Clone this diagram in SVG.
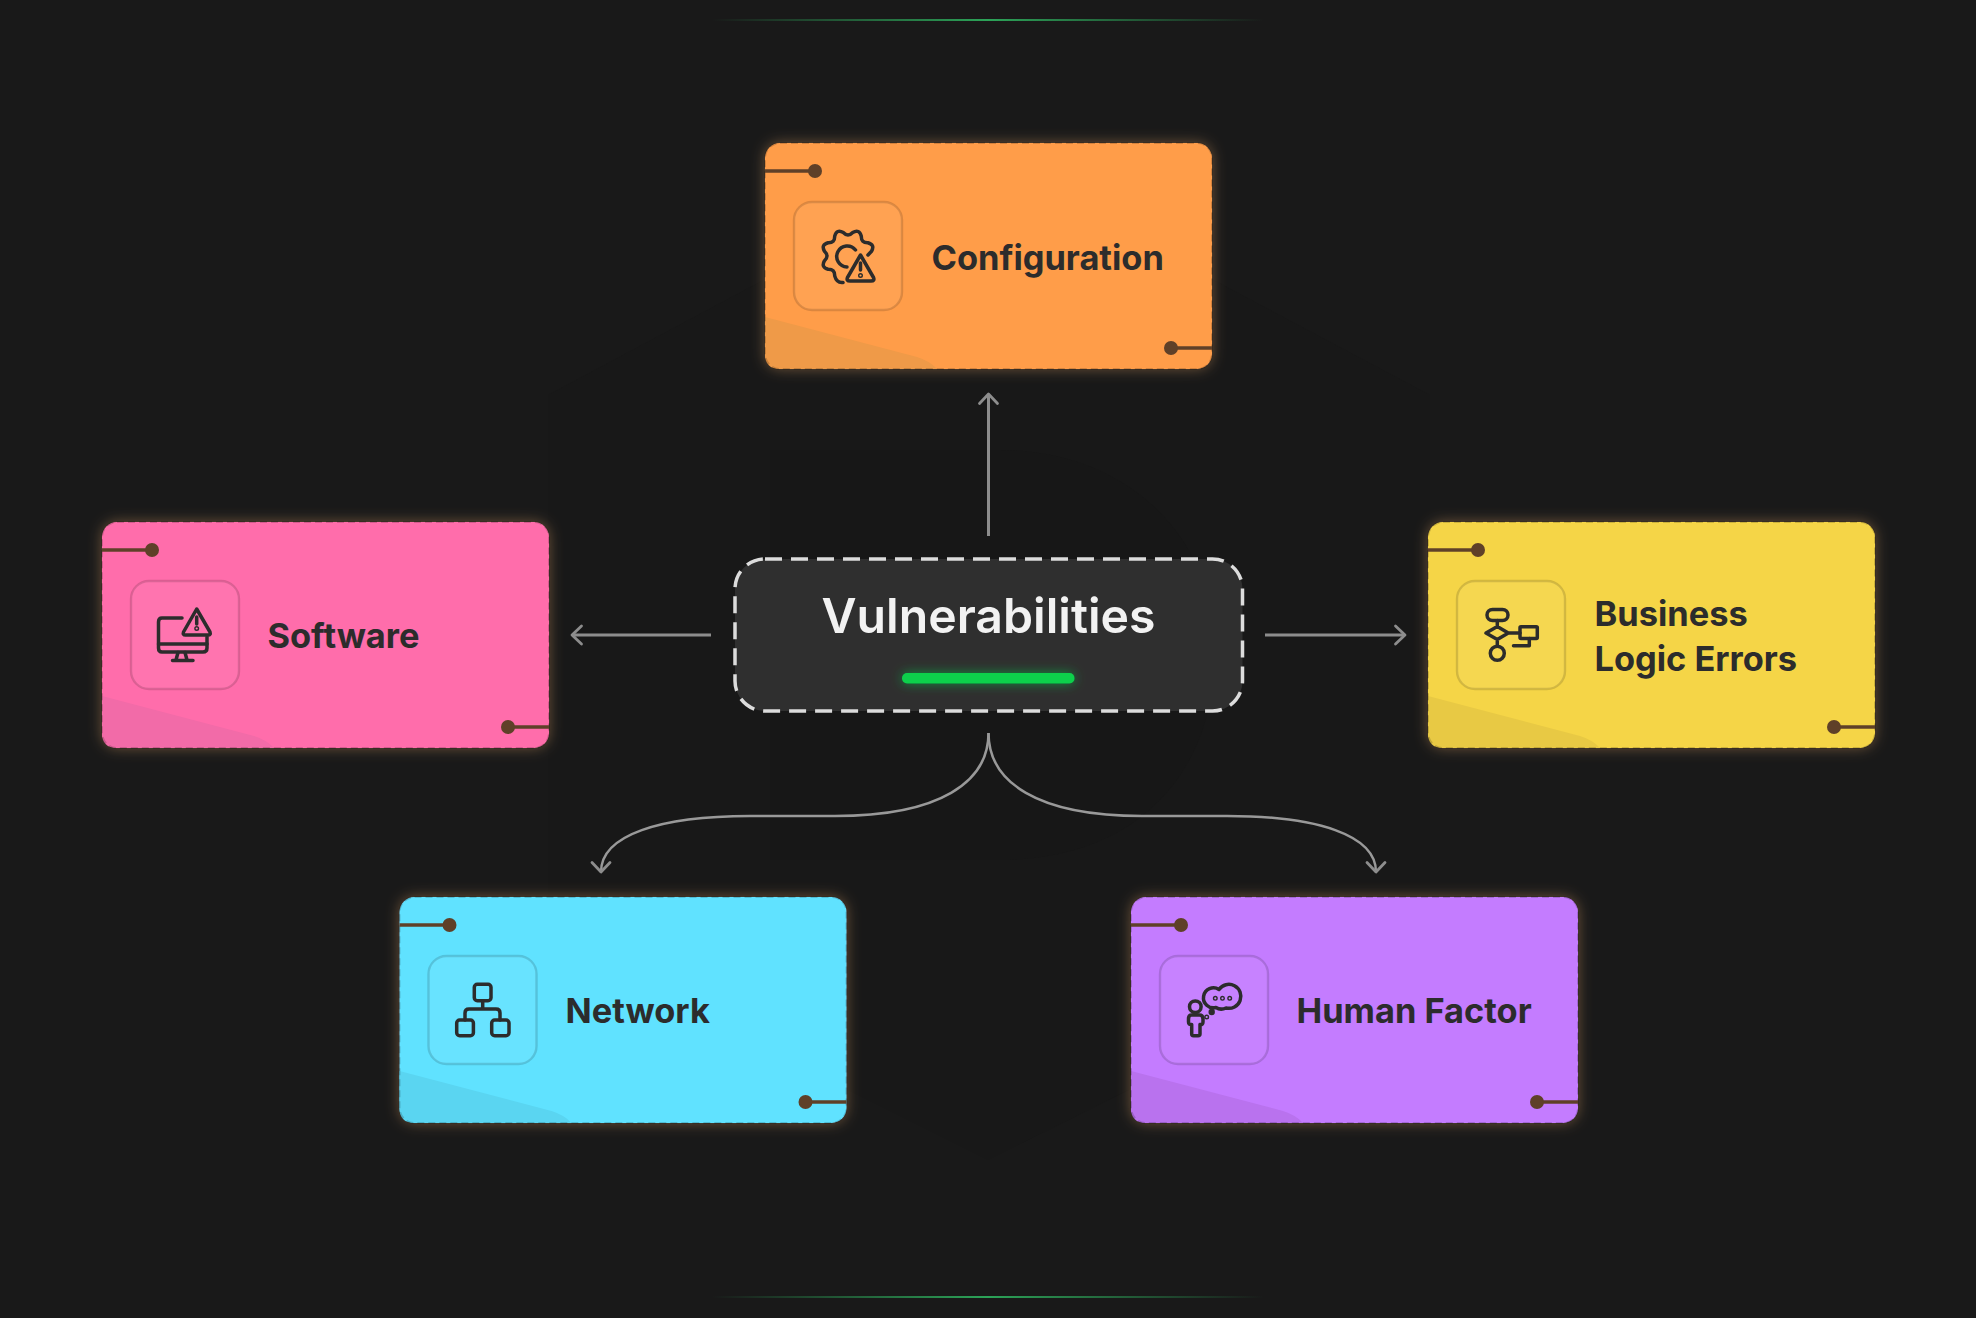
<svg xmlns="http://www.w3.org/2000/svg" width="1976" height="1318" viewBox="0 0 1976 1318">
<style>
text{font-family:"Inter","Liberation Sans",sans-serif}
.lbl{font-size:34.4px;font-weight:700;fill:#2c2c2c}
.title{font-size:48.2px;font-weight:600;fill:#f2f2f2;text-anchor:middle}
.edge{fill:none;stroke:rgba(0,0,0,.17);stroke-width:2;stroke-dasharray:7 4}
.tie{stroke:#5f4028;stroke-width:3.5;fill:none}
.dot{fill:#5f4028}
.ibox{fill:rgba(255,255,255,.05);stroke:rgba(0,0,0,.14);stroke-width:2.4}
.ic{fill:none;stroke:#2c2c2c;stroke-width:3.5;stroke-linecap:round;stroke-linejoin:round}
.ict{fill:none;stroke:#2c2c2c;stroke-width:1.4}
.icf{fill:#2c2c2c}
.arrow{fill:none;stroke:#8d8d8d;stroke-width:3;marker-end:url(#chev)}
.curve{fill:none;stroke:#999;stroke-width:2.5;marker-end:url(#chev)}
</style>
<defs>
<marker id="chev" markerUnits="userSpaceOnUse" markerWidth="24" markerHeight="24" refX="12" refY="12" orient="auto" overflow="visible">
<path d="M2.500 3L12 12L2.500 21" fill="none" stroke="#8d8d8d" stroke-width="2.8" stroke-linecap="round" stroke-linejoin="round"/>
</marker>
<filter id="glow" x="-10%" y="-15%" width="120%" height="130%"><feDropShadow dx="0" dy="0" stdDeviation="7" flood-color="#ffb870" flood-opacity=".38"/></filter>
<filter id="gglow" x="-15%" y="-300%" width="130%" height="700%"><feDropShadow dx="0" dy="0" stdDeviation="6" flood-color="#0bd04b" flood-opacity=".6"/></filter>
<linearGradient id="line" x1="0" x2="1" y1="0" y2="0"><stop offset="0" stop-color="#2ca358" stop-opacity="0"/><stop offset=".5" stop-color="#2ca358"/><stop offset="1" stop-color="#2ca358" stop-opacity="0"/></linearGradient>
<g id="card-base"><rect width="447" height="226" rx="15" filter="url(#glow)" fill="currentColor"/></g>
<path id="wedge" d="M0 174L152 214Q165 218 172 226L15 226Q0 226 0 211Z"/>
<g id="card-top">
<rect class="edge" width="447" height="226" rx="15"/>
<path class="tie" d="M0 28H50"/><circle class="dot" cx="50" cy="28" r="7"/>
<path class="tie" d="M406 205H447"/><circle class="dot" cx="406" cy="205" r="7"/>
<rect class="ibox" x="29" y="59" width="108" height="108" rx="18"/>
</g>
</defs>
<rect width="1976" height="1318" fill="#191919"/>
<g id="backdrop"><path d="M988 160L1430 395V940L988 1160L548 940V395Z" fill="#181818"/><path d="M770 450H1000C1130 450 1215 540 1215 650C1215 780 1130 860 1000 860H770Z" fill="#171717"/></g>
<rect x="712" y="19" width="552" height="2" fill="url(#line)"/>
<rect x="712" y="1296" width="552" height="2" fill="url(#line)"/>
<g id="connectors">
<path class="arrow" d="M988.5 536V394"/>
<path class="arrow" d="M711 635H572"/>
<path class="arrow" d="M1265 635H1405"/>
<path class="curve" d="M988.5 733C988.5 782 940 816 835 816L750 816C660 816 601 835 601 872"/>
<path class="curve" d="M988.5 733C988.5 782 1037 816 1142 816L1227 816C1317 816 1376 835 1376 872"/>
</g>
<g id="node-center">
<rect x="735" y="559" width="507.500" height="152" rx="30" fill="#2f2f2f" stroke="#dcdcdc" stroke-width="3.500" stroke-dasharray="17 9"/>
<text class="title" x="988.5" y="633">Vulnerabilities</text>
<rect x="902" y="673" width="172.500" height="10.500" rx="5" fill="#0bd04b" filter="url(#gglow)"/>
</g>
<g id="node-configuration">
<g transform="translate(765 143)" color="#ff9d4a"><use href="#card-base"/><use href="#wedge" fill="#ef9a48"/><use href="#card-top"/></g>
<path class="ic" d="M843 282.500Q836.700 283.300 834.700 275.900Q834.900 269.100 828.100 269.300Q820.700 267.300 824.500 260.700Q829.500 256 824.500 251.300Q820.700 244.700 828.100 242.700Q834.900 242.900 834.700 236.100Q836.700 228.700 843.300 232.500Q848 237.500 852.700 232.500Q859.300 228.700 861.300 236.100Q861.100 242.900 867.900 242.700Q875.300 244.700 871.500 251.300L868 255"/>
<path class="ic" d="M855.500 250A10.500 10.500 0 1 0 847 267"/>
<path class="ic" d="M860.500 255L847.500 277.500Q846 281 850 281L871 281Q875 281 873.500 277.500Z"/>
<path class="ic" d="M860.500 263V270"/><circle class="ict" cx="860.500" cy="275.500" r="1.800"/>
<text class="lbl" x="931.500" y="269.500">Configuration</text>
</g>
<g id="node-software">
<g transform="translate(102 522)" color="#ff6dab"><use href="#card-base"/><use href="#wedge" fill="#f26ba8"/><use href="#card-top"/></g>
<path class="ic" d="M182 618H162Q158.500 618 158.500 622V648Q158.500 652 162 652H203Q207 652 207 648V637"/>
<path class="ic" d="M158.500 644H207M178 652.500L176 660M185 652.500L187 660M172.500 660.500H193"/>
<path class="ic" d="M196.700 609L183.500 632Q182.500 635 185.500 635H208Q211 635 210 632Z"/>
<path class="ic" d="M196.700 617V624"/><circle class="ict" cx="196.700" cy="628.500" r="1.800"/>
<text class="lbl" x="267.500" y="647.800">Software</text>
</g>
<g id="node-business">
<g transform="translate(1428 522)" color="#f5d547"><use href="#card-base"/><use href="#wedge" fill="#e8c944"/><use href="#card-top"/></g>
<rect class="ic" x="1487" y="609.500" width="21" height="11" rx="5.500"/>
<path class="ic" d="M1497.300 620.500V626.500M1486 633L1497.300 626.500L1508.300 633L1497.300 639.500ZM1497.300 639.500V646M1508.300 633H1520M1529.300 638.500V645.700H1513.500"/>
<circle class="ic" cx="1497.300" cy="653.300" r="7"/>
<rect class="ic" x="1520" y="626.700" width="17.300" height="11.800" rx="1"/>
<text class="lbl"><tspan x="1594.500" y="625.500">Business</tspan><tspan x="1594.500" y="670.500">Logic Errors</tspan></text>
</g>
<g id="node-network">
<g transform="translate(399.500 897)" color="#60e2ff"><use href="#card-base"/><use href="#wedge" fill="#5ad5f1"/><use href="#card-top"/></g>
<rect class="ic" x="474.300" y="984.300" width="16.700" height="16.400" rx="3"/>
<rect class="ic" x="456.700" y="1020" width="16.700" height="15.700" rx="3"/>
<rect class="ic" x="491.700" y="1020" width="17.300" height="15.700" rx="3"/>
<path class="ic" d="M482.700 1000.700V1009M465 1020V1013Q465 1009 469 1009H496Q500 1009 500 1013V1020"/>
<text class="lbl" x="565.500" y="1022.800">Network</text>
</g>
<g id="node-human">
<g transform="translate(1131 897)" color="#c47cff"><use href="#card-base"/><use href="#wedge" fill="#b972ee"/><use href="#card-top"/></g>
<circle class="ic" cx="1195.300" cy="1006.700" r="5.800"/>
<path class="ic" d="M1191.500 1015H1199.500Q1203 1015 1203 1019V1022Q1203 1025 1200 1024.500V1034Q1200 1035.700 1198 1035.700H1193.500Q1191.700 1035.700 1191.700 1034V1024.500Q1188.500 1025 1188.500 1022V1019Q1188.500 1015 1191.500 1015Z"/>
<path class="ic" d="M1219 989.500A12 12 0 1 1 1226 1008Q1220.500 1010.500 1216 1007.500A10 10 0 1 1 1219 989.500Z"/>
<circle class="ict" cx="1215.300" cy="998.300" r="1.800"/><circle class="ict" cx="1222.500" cy="998.300" r="1.800"/><circle class="ict" cx="1229.700" cy="998.300" r="1.800"/>
<circle class="icf" cx="1211.700" cy="1012" r="3.200"/><circle class="ict" cx="1206.700" cy="1017" r="1.800"/>
<text class="lbl" x="1296.500" y="1022.800">Human Factor</text>
</g>
</svg>
